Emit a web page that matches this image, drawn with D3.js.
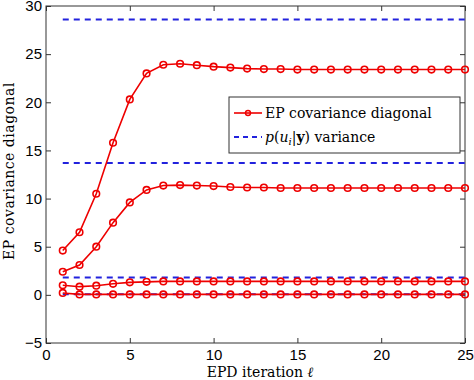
<!DOCTYPE html>
<html>
<head>
<meta charset="utf-8">
<script src="https://cdn.jsdelivr.net/npm/d3@7"></script>
<style>
body{margin:0;background:#fff}
svg{display:block}
.tick text{font-family:"Liberation Sans",Arial,sans-serif;font-size:15px;fill:#000}
.lbl{font-family:"DejaVu Serif","Liberation Serif",serif;font-size:14px;fill:#000}
</style>
</head>
<body>
<div id="chart"></div>
<script>
const W=474,H=380;
const margin={top:6,right:9,bottom:37,left:46};
const iw=W-margin.left-margin.right, ih=H-margin.top-margin.bottom;

// iterations 1..25
const iters=d3.range(1,26);
const epDiag=[
  [4.6,6.5,10.5,15.8,20.3,23.0,23.9,24.0,23.85,23.7,23.6,23.5,23.45,23.45,23.4,23.4,23.4,23.4,23.4,23.4,23.4,23.4,23.4,23.4,23.4],
  [2.4,3.1,5.0,7.5,9.6,10.9,11.35,11.4,11.35,11.3,11.2,11.15,11.15,11.1,11.1,11.1,11.1,11.1,11.1,11.1,11.1,11.1,11.1,11.1,11.1],
  [1.0,0.85,0.95,1.15,1.3,1.35,1.4,1.4,1.4,1.4,1.4,1.4,1.4,1.4,1.4,1.4,1.4,1.4,1.4,1.4,1.4,1.4,1.4,1.4,1.4],
  [0.2,0.05,0.05,0.05,0.05,0.05,0.05,0.05,0.05,0.05,0.05,0.05,0.05,0.05,0.05,0.05,0.05,0.05,0.05,0.05,0.05,0.05,0.05,0.05,0.05]
];
const trueVar=[28.6,13.7,1.8,0.07];
const xTicks=[0,5,10,15,20,25];
const yTicks=[-5,0,5,10,15,20,25,30];

const svg=d3.select('#chart').append('svg').attr('width',W).attr('height',H);
const g=svg.append('g').attr('transform',`translate(${margin.left},${margin.top})`);

const x=d3.scaleLinear().domain([0,25]).range([0,iw]);
const y=d3.scaleLinear().domain([-5,30]).range([ih,0]);

// axes box with inward ticks
const ax=(a,p)=>a.tickSizeInner(-5).tickSizeOuter(0).tickPadding(p);
g.append('g').attr('transform',`translate(0,${ih})`).call(ax(d3.axisBottom(x).tickValues(xTicks).tickFormat(d3.format('d')),6));
g.append('g').call(ax(d3.axisTop(x).tickValues(xTicks),6).tickFormat(''));
g.append('g').call(ax(d3.axisLeft(y).tickValues(yTicks),4).tickFormat(d=>d<0?'\u2212'+Math.abs(d):d));
g.append('g').attr('transform',`translate(${iw},0)`).call(ax(d3.axisRight(y).tickValues(yTicks),4).tickFormat(''));
g.selectAll('.domain').remove();
g.selectAll('.tick line').attr('stroke','#333');
g.append('rect').attr('width',iw).attr('height',ih).attr('fill','none').attr('stroke','#333').attr('stroke-width',1);

// blue dashed reference
g.selectAll('.var').data(trueVar).enter().append('line').attr('class','var')
  .attr('x1',x(1)).attr('x2',x(25)).attr('y1',d=>y(d)).attr('y2',d=>y(d))
  .attr('stroke','#2222dd').attr('stroke-width',2).attr('stroke-dasharray','6,5');

const line=d3.line().x((d,i)=>x(iters[i])).y(d=>y(d));
epDiag.forEach(s=>{
  g.append('path').datum(s).attr('d',line).attr('fill','none').attr('stroke','#e00').attr('stroke-width',1.6);
  g.selectAll(null).data(s).enter().append('circle')
    .attr('cx',(d,i)=>x(iters[i])).attr('cy',d=>y(d)).attr('r',3.3)
    .attr('fill','none').attr('stroke','#e00').attr('stroke-width',1.6);
});

// legend
const lg=svg.append('g').attr('transform','translate(229,97)');
lg.append('rect').attr('width',231).attr('height',56).attr('fill','#fff').attr('stroke','#333');
lg.append('line').attr('x1',5).attr('x2',33).attr('y1',16).attr('y2',16).attr('stroke','#e00').attr('stroke-width',1.6);
lg.append('circle').attr('cx',19).attr('cy',16).attr('r',2.5).attr('fill','none').attr('stroke','#e00').attr('stroke-width',1.4);
lg.append('text').attr('class','lbl').attr('x',36).attr('y',21).text('EP covariance diagonal');
lg.append('line').attr('x1',5).attr('x2',33).attr('y1',40).attr('y2',40).attr('stroke','#2222dd').attr('stroke-width',2).attr('stroke-dasharray','5,4');
const t2=lg.append('text').attr('class','lbl').attr('x',36).attr('y',45);
t2.append('tspan').attr('font-style','italic').text('p');
t2.append('tspan').text('(');
t2.append('tspan').attr('font-style','italic').text('u');
t2.append('tspan').attr('font-style','italic').attr('font-size','10px').attr('dy',3).text('i');
t2.append('tspan').attr('dy',-3).text('|');
t2.append('tspan').attr('font-weight','bold').text('y');
t2.append('tspan').text(') variance');

// axis labels
svg.append('text').attr('class','lbl').attr('text-anchor','middle').attr('letter-spacing',0.5)
  .attr('transform',`translate(14,171) rotate(-90)`).text('EP covariance diagonal');
const xl=svg.append('text').attr('class','lbl').attr('text-anchor','middle').attr('x',260).attr('y',377);
xl.append('tspan').text('EPD iteration ');
xl.append('tspan').attr('font-style','italic').text('\u2113');
</script>
</body>
</html>
